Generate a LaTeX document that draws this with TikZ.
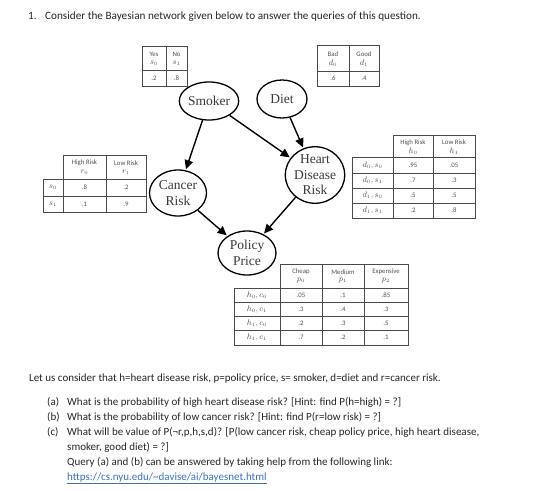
\documentclass[tikz,border=0pt]{standalone}
\usepackage{fontspec}
\setmainfont{Carlito}
\newfontfamily\nodefont{Liberation Serif}
\usetikzlibrary{arrows.meta,shapes.geometric}
\definecolor{tgray}{HTML}{505050}
\definecolor{ngray}{HTML}{383838}
\definecolor{lgray}{HTML}{4A4A4A}
\definecolor{linkblue}{HTML}{3D6FC4}
\newcommand{\mth}[1]{{\fontsize{7.8}{8}\selectfont$#1$}}
\tikzset{
  bn/.style={draw=black,line width=1.3pt,ellipse,inner sep=0pt,font=\nodefont\fontsize{13.5}{15.5}\selectfont,text=ngray,align=center},
  edge/.style={line width=1.4pt,-{Triangle[length=9pt,width=8.5pt]},shorten >=1pt},
  grid/.style={draw=lgray,line width=0.6pt},
  cell/.style={inner sep=0pt,font=\fontsize{6.8}{8}\selectfont,text=tgray,align=center},
  txt/.style={inner sep=0pt,anchor=base west,font=\fontsize{11}{13}\selectfont,text=black!85},
}
\begin{document}
\begin{tikzpicture}[x=1pt,y=-1pt]
\useasboundingbox (0,0) rectangle (535,490);

% title
\node[txt,font=\fontsize{11.2}{13}\selectfont] (title) at (28,19) {1.\hspace{8.5pt}Consider the Bayesian network given below to answer the queries of this question.};

% network nodes
\node[bn,minimum width=56pt,minimum height=38pt] (S) at (209,101) {Smoker};
\node[bn,minimum width=50pt,minimum height=38pt] (D) at (282,99) {Diet};
\node[bn,minimum width=56pt,minimum height=56pt] (H) at (315,175) {Heart\\Disease\\Risk};
\node[bn,minimum width=57pt,minimum height=46pt] (C) at (178,193) {Cancer\\Risk};
\node[bn,minimum width=58pt,minimum height=44pt] (P) at (247,253) {Policy\\Price};

\draw[edge] (S) -- (C);
\draw[edge] (S) -- (H);
\draw[edge] (D) -- (H);
\draw[edge] (C) -- (P);
\draw[edge] (H) -- (P);

% Smoker table
\draw[grid] (142,46) rectangle (187,86);
\draw[grid] (142,70) -- (187,70);
\draw[grid] (166,46) -- (166,86);
\node[cell] (s1) at (154,54.5) {Yes};
\node[cell] (s2) at (154,63.5) {\mth{s_0}};
\node[cell] (s3) at (176.5,54.5) {No};
\node[cell] (s4) at (176.5,63.5) {\mth{s_1}};
\node[cell] (s5) at (154,78) {.2};
\node[cell] (s6) at (176.5,78) {.8};

% Diet table
\draw[grid] (317,45) rectangle (379,86);
\draw[grid] (317,71) -- (379,71);
\draw[grid] (349,45) -- (349,86);
\node[cell] (d1) at (333,54) {Bad};
\node[cell] (d2) at (333,63) {\mth{d_0}};
\node[cell] (d3) at (364,54) {Good};
\node[cell] (d4) at (364,63) {\mth{d_1}};
\node[cell] (d5) at (333,78.5) {.6};
\node[cell] (d6) at (364,78.5) {.4};

% Cancer table
\draw[grid] (63,155) rectangle (146,212);
\draw[grid] (43,179) rectangle (63,212);
\draw[grid] (43,179) -- (146,179);
\draw[grid] (43,196) -- (146,196);
\draw[grid] (106,155) -- (106,212);
\node[cell] (c1) at (84.5,163) {High Risk};
\node[cell] (c2) at (84.5,172) {\mth{r_0}};
\node[cell] (c3) at (126,163) {Low Risk};
\node[cell] (c4) at (126,172) {\mth{r_1}};
\node[cell] (c5) at (53,187.5) {\mth{s_0}};
\node[cell] (c6) at (84.5,187.5) {.8};
\node[cell] (c7) at (126,187.5) {.2};
\node[cell] (c8) at (53,204) {\mth{s_1}};
\node[cell] (c9) at (84.5,204) {.1};
\node[cell] (c10) at (126,204) {.9};

% Heart table
\draw[grid] (393,135) rectangle (475,218);
\draw[grid] (352,157) rectangle (393,218);
\foreach \yy in {157,173,188,203} \draw[grid] (352,\yy) -- (475,\yy);
\draw[grid] (433,135) -- (433,218);
\node[cell] (h1) at (413,142.5) {High Risk};
\node[cell] (h2) at (413,151) {\mth{h_0}};
\node[cell] (h3) at (454,142.5) {Low Risk};
\node[cell] (h4) at (454,151) {\mth{h_1}};
\node[cell] (h5) at (372.5,165) {\mth{d_0,s_0}};
\node[cell] (h6) at (413,165) {.95};
\node[cell] (h7) at (454,165) {.05};
\node[cell] (h8) at (372.5,180.5) {\mth{d_0,s_1}};
\node[cell] (h9) at (413,180.5) {.7};
\node[cell] (h10) at (454,180.5) {.3};
\node[cell] (h11) at (372.5,195.5) {\mth{d_1,s_0}};
\node[cell] (h12) at (413,195.5) {.5};
\node[cell] (h13) at (454,195.5) {.5};
\node[cell] (h14) at (372.5,210.5) {\mth{d_1,s_1}};
\node[cell] (h15) at (413,210.5) {.2};
\node[cell] (h16) at (454,210.5) {.8};

% Policy table
\draw[grid] (280,264) rectangle (408,345);
\draw[grid] (234,288) rectangle (280,345);
\foreach \yy in {288,302,316,330} \draw[grid] (234,\yy) -- (408,\yy);
\draw[grid] (322,264) -- (322,345);
\draw[grid] (364,264) -- (364,345);
\node[cell] (p1) at (301,272) {Cheap};
\node[cell] (p2) at (301,281) {\mth{p_0}};
\node[cell] (p3) at (343,272) {Medium};
\node[cell] (p4) at (343,281) {\mth{p_1}};
\node[cell] (p5) at (386,272) {Expensive};
\node[cell] (p6) at (386,281) {\mth{p_2}};
\node[cell] (p7) at (257,295) {\mth{h_0,c_0}};
\node[cell] (p8) at (301,295) {.05};
\node[cell] (p9) at (343,295) {.1};
\node[cell] (p10) at (386,295) {.85};
\node[cell] (p11) at (257,309) {\mth{h_0,c_1}};
\node[cell] (p12) at (301,309) {.3};
\node[cell] (p13) at (343,309) {.4};
\node[cell] (p14) at (386,309) {.3};
\node[cell] (p15) at (257,323) {\mth{h_1,c_0}};
\node[cell] (p16) at (301,323) {.2};
\node[cell] (p17) at (343,323) {.3};
\node[cell] (p18) at (386,323) {.5};
\node[cell] (p19) at (257,337.5) {\mth{h_1,c_1}};
\node[cell] (p20) at (301,337.5) {.7};
\node[cell] (p21) at (343,337.5) {.2};
\node[cell] (p22) at (386,337.5) {.1};

% bottom text
\node[txt] (t0) at (29,381) {Let us consider that h=heart disease risk, p=policy price, s= smoker, d=diet and r=cancer risk.};
\node[txt] (ta) at (47,405) {(a)};
\node[txt] (ta2) at (67,405) {What is the probability of high heart disease risk? [Hint: find P(h=high) = ?]};
\node[txt] (tb) at (47,420) {(b)};
\node[txt] (tb2) at (67,420) {What is the probability of low cancer risk? [Hint: find P(r=low risk) = ?]};
\node[txt] (tc) at (47,435) {(c)};
\node[txt] (tc2) at (67,435) {What will be value of P(¬r,p,h,s,d)? [P(low cancer risk, cheap policy price, high heart disease,};
\node[txt] (tc3) at (67,450) {smoker, good diet) = ?]};
\node[txt] (tq) at (67,465) {Query (a) and (b) can be answered by taking help from the following link:};
\node[txt,text=linkblue] (tl) at (67,480) {\underline{https://cs.nyu.edu/\textasciitilde davise/ai/bayesnet.html}};
\end{tikzpicture}
\end{document}
